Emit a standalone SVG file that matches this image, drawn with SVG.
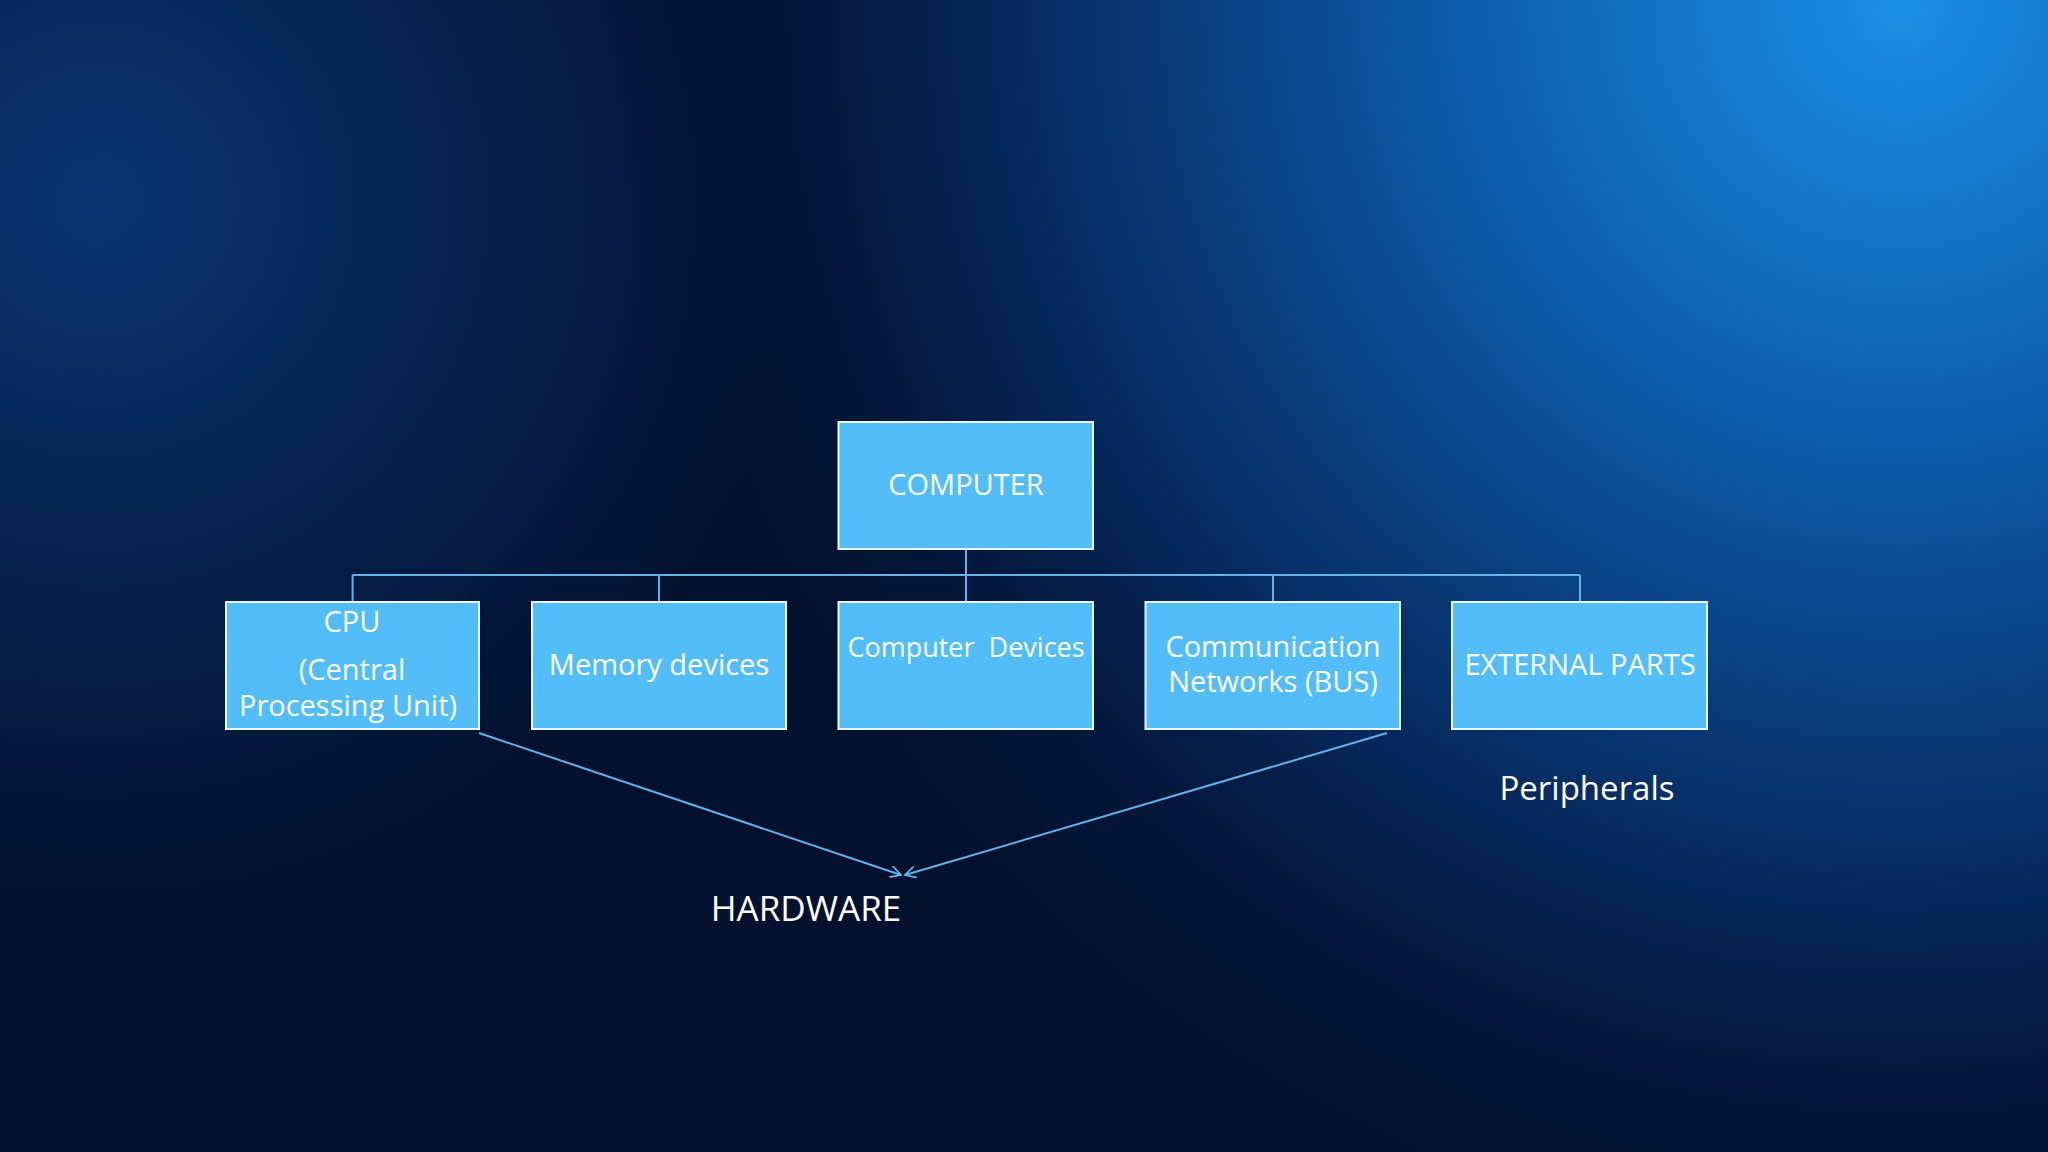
<svg xmlns="http://www.w3.org/2000/svg" width="2048" height="1152" viewBox="0 0 2048 1152">
<defs>
<radialGradient id="bg1" cx="1900" cy="0" r="1300" gradientUnits="userSpaceOnUse">
<stop offset="0" stop-color="#1a8fe6"/><stop offset="0.35" stop-color="#0d5aa8"/><stop offset="0.7" stop-color="#06275a"/><stop offset="1" stop-color="#03112e" stop-opacity="0"/>
</radialGradient>
<radialGradient id="bg2" cx="100" cy="200" r="700" gradientUnits="userSpaceOnUse">
<stop offset="0" stop-color="#0a3470"/><stop offset="1" stop-color="#0a3470" stop-opacity="0"/>
</radialGradient>
<marker id="ah" viewBox="0 0 12 12" refX="11" refY="6" markerWidth="12" markerHeight="12" markerUnits="userSpaceOnUse" orient="auto"><path d="M0,0 L11,6 L0,12" fill="none" stroke="#5fc4f5" stroke-width="1.6"/></marker>
<style>
.box{fill:#52bdf9;stroke:#e8f6ff;stroke-width:2}
.t{font-family:"Open Sans","Liberation Sans",sans-serif;font-size:29px;fill:#ffffff;text-anchor:middle;white-space:pre}
.c{stroke:#5fb3e6;stroke-width:2;fill:none}
</style>
</defs>
<rect width="2048" height="1152" fill="#03112e"/>
<rect width="2048" height="1152" fill="url(#bg2)"/>
<rect width="2048" height="1152" fill="url(#bg1)"/>
<g id="connectors">
<path class="c" d="M966,549 V575 M352.6,575 H1580 M352.6,575 V602 M659,575 V602 M966,575 V602 M1273,575 V602 M1580,575 V602"/>
<path class="c" d="M479,733 L901,875" marker-end="url(#ah)"/>
<path class="c" d="M1387,733 L905,875" marker-end="url(#ah)"/>
</g>
<g id="computer"><rect class="box" x="838.5" y="422" width="254.5" height="127"/><text class="t" x="966" y="495">COMPUTER</text></g>
<g id="cpu"><rect class="box" x="226" y="602" width="253" height="127"/><text class="t" x="352" y="632">CPU</text><text class="t" x="352" y="680">(Central</text><text class="t" x="348" y="716">Processing Unit)</text></g>
<g id="memory"><rect class="box" x="532" y="602" width="254" height="127"/><text class="t" x="659" y="675">Memory devices</text></g>
<g id="devices"><rect class="box" x="838.5" y="602" width="254.5" height="127"/><text class="t" x="966" y="657" style="font-size:27px" xml:space="preserve">Computer  Devices</text></g>
<g id="bus"><rect class="box" x="1145.5" y="602" width="254.5" height="127"/><text class="t" x="1273" y="657">Communication</text><text class="t" x="1273" y="692">Networks (BUS)</text></g>
<g id="external"><rect class="box" x="1452" y="602" width="255" height="127"/><text class="t" x="1580" y="675">EXTERNAL PARTS</text></g>
<g id="hardware"><text class="t" x="806" y="921" style="font-size:35px">HARDWARE</text></g>
<g id="peripherals"><text class="t" x="1587" y="800" style="font-size:33px">Peripherals</text></g>
</svg>
